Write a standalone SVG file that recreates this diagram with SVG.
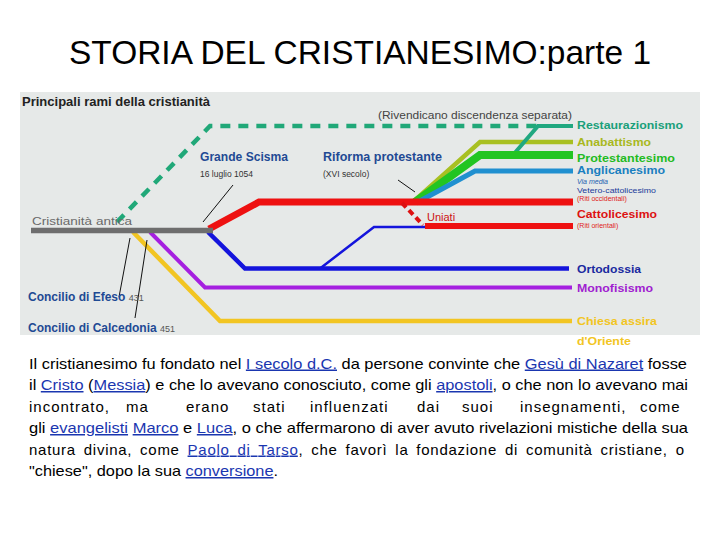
<svg xmlns="http://www.w3.org/2000/svg" width="720" height="540" viewBox="0 0 720 540">
<style>
  .t{font-family:"Liberation Sans",Arial,sans-serif}
  .b{font-weight:bold}
  .lab{font-family:"Liberation Sans",Arial,sans-serif;font-weight:bold;font-size:12px;fill:#1f4a94}
  .sm{font-family:"Liberation Sans",Arial,sans-serif;font-size:8.5px;fill:#333}
  .rl{font-family:"Liberation Sans",Arial,sans-serif;font-weight:bold;font-size:11.5px}
  .tiny{font-family:"Liberation Sans",Arial,sans-serif;font-size:7px}
  .ln{fill:none;stroke-linejoin:miter}
  .ptr{fill:none;stroke:#111;stroke-width:1}
  .p{font-family:"Liberation Sans",Arial,sans-serif;font-size:15px;fill:#000}
  .lk{fill:#1a36b0;text-decoration:underline}
</style>
<rect width="720" height="540" fill="#fff"/>
<text id="title" class="t" x="360" y="64" font-size="34" text-anchor="middle" textLength="582" lengthAdjust="spacingAndGlyphs" fill="#000">STORIA DEL CRISTIANESIMO:parte 1</text>

<rect x="20" y="92" width="680" height="243" fill="#e6e9e8"/>
<text class="t b" x="22" y="106" font-size="12" fill="#222" textLength="188" lengthAdjust="spacingAndGlyphs">Principali rami della cristianità</text>

<g id="connectors">
  <path class="ln" d="M117,222 L210,126 H538" stroke="#20a878" stroke-width="4.5" stroke-dasharray="10,8"/>
  <path class="ln" d="M133,232 L220,321 H572" stroke="#f2c522" stroke-width="4.5"/>
  <path class="ln" d="M150,232 L205,287.5 H572" stroke="#a51fe0" stroke-width="4"/>
  <path class="ln" d="M320,268.5 L374,227 H426" stroke="#1414dc" stroke-width="2.5"/>
  <path class="ln" d="M208,232 L245,268.5 H569" stroke="#1414dc" stroke-width="4.5"/>
  <path class="ln" d="M413,202 L480,142 H573" stroke="#a8c022" stroke-width="4.5"/>
  <path class="ln" d="M513,155 L538,126 H573" stroke="#20a880" stroke-width="4"/>
  <path class="ln" d="M415,202 L480,155 H573" stroke="#22c522" stroke-width="8"/>
  <path class="ln" d="M418,202 L475,171 H573" stroke="#2090d0" stroke-width="5"/>
  <path class="ln" d="M209,229 L259,202 H573" stroke="#ee1111" stroke-width="7"/>
  <path class="ln" d="M402,203 L423,225" stroke="#dd1111" stroke-width="4" stroke-dasharray="6,4"/>
  <path class="ln" d="M425,226 H573" stroke="#ee1111" stroke-width="6"/>
  <path class="ln" d="M31,230.5 H213" stroke="#6e6e6e" stroke-width="5.5"/>
  <path class="ptr" d="M233,185 L203,222"/>
  <path class="ptr" d="M398,180 L415,192"/>
  <path class="ptr" d="M130,238 L119,297"/>
  <path class="ptr" d="M147,240 L135,318"/>
</g>

<g id="antica"><text class="t" x="32" y="225" font-size="11" fill="#6a6a6a" textLength="100" lengthAdjust="spacingAndGlyphs">Cristianità antica</text></g>
<g id="scisma">
  <text class="lab" x="200" y="161" textLength="88" lengthAdjust="spacingAndGlyphs">Grande Scisma</text>
  <text class="sm" x="200" y="177">16 luglio 1054</text>
</g>
<g id="riforma">
  <text class="lab" x="323" y="161" textLength="119" lengthAdjust="spacingAndGlyphs">Riforma protestante</text>
  <text class="sm" x="323" y="177">(XVI secolo)</text>
</g>
<g id="rivendicano"><text class="t" x="378" y="119" font-size="11" fill="#444" textLength="194" lengthAdjust="spacingAndGlyphs">(Rivendicano discendenza separata)</text></g>
<g id="uniati"><text class="t" x="427" y="220.5" font-size="11" fill="#cc1111">Uniati</text></g>
<g id="efeso"><text class="lab" x="28" y="301">Concilio di Efeso <tspan font-weight="normal" font-size="9" fill="#555">431</tspan></text></g>
<g id="calcedonia"><text class="lab" x="28" y="332">Concilio di Calcedonia <tspan font-weight="normal" font-size="9" fill="#555">451</tspan></text></g>

<g id="restaurazionismo"><text class="rl" x="577" y="129" fill="#1aa07a" textLength="106" lengthAdjust="spacingAndGlyphs">Restaurazionismo</text></g>
<g id="anabattismo"><text class="rl" x="577" y="145.5" fill="#a8b820" textLength="74" lengthAdjust="spacingAndGlyphs">Anabattismo</text></g>
<g id="protestantesimo"><text class="rl" x="577" y="161.5" fill="#22bb22" textLength="98" lengthAdjust="spacingAndGlyphs">Protestantesimo</text></g>
<g id="anglicanesimo">
  <text class="rl" x="577" y="174" fill="#1a7fc0" textLength="88" lengthAdjust="spacingAndGlyphs">Anglicanesimo</text>
  <text class="tiny" x="577" y="183.5" fill="#2060b0" font-style="italic">Via media</text>
  <text class="tiny" x="577" y="192.5" fill="#1a3a9a" textLength="79" lengthAdjust="spacingAndGlyphs">Vetero-cattolicesimo</text>
</g>
<g id="cattolicesimo">
  <text class="tiny" x="577" y="201" fill="#e02020">(Riti occidentali)</text>
  <text class="rl" x="577" y="218" fill="#dd1111" textLength="80" lengthAdjust="spacingAndGlyphs">Cattolicesimo</text>
  <text class="tiny" x="577" y="227.5" fill="#e02020">(Riti orientali)</text>
</g>
<g id="ortodossia"><text class="rl" x="577" y="272.5" fill="#1a2aa0" textLength="64" lengthAdjust="spacingAndGlyphs">Ortodossia</text></g>
<g id="monofisismo"><text class="rl" x="577" y="292" fill="#a020d0" textLength="76" lengthAdjust="spacingAndGlyphs">Monofisismo</text></g>
<g id="assira">
  <text class="rl" x="577" y="324.5" fill="#f2c522" textLength="80" lengthAdjust="spacingAndGlyphs">Chiesa assira</text>
  <text class="rl" x="577" y="344.5" fill="#f2c522" textLength="54" lengthAdjust="spacingAndGlyphs">d'Oriente</text>
</g>

<g id="paragraph">
  <text class="p" x="29" y="368.5" textLength="658" lengthAdjust="spacingAndGlyphs">Il cristianesimo fu fondato nel <tspan class="lk">I secolo d.C.</tspan> da persone convinte che <tspan class="lk">Gesù di Nazaret</tspan> fosse</text>
  <text class="p" x="29" y="390" textLength="659" lengthAdjust="spacingAndGlyphs">il <tspan class="lk">Cristo</tspan> (<tspan class="lk">Messia</tspan>) e che lo avevano conosciuto, come gli <tspan class="lk">apostoli</tspan>, o che non lo avevano mai</text>
  <text class="p" y="411.5" letter-spacing="1"><tspan x="29">incontrato,</tspan><tspan x="126">ma</tspan><tspan x="186">erano</tspan><tspan x="253">stati</tspan><tspan x="310">influenzati</tspan><tspan x="417">dai</tspan><tspan x="462">suoi</tspan><tspan x="520">insegnamenti,</tspan><tspan x="640">come</tspan></text>
  <text class="p" x="29" y="433" textLength="659" lengthAdjust="spacingAndGlyphs">gli <tspan class="lk">evangelisti</tspan> <tspan class="lk">Marco</tspan> e <tspan class="lk">Luca</tspan>, o che affermarono di aver avuto rivelazioni mistiche della sua</text>
  <text class="p" x="29" y="454.5" textLength="655" lengthAdjust="spacing" word-spacing="3">natura divina, come <tspan class="lk">Paolo di Tarso</tspan>, che favorì la fondazione di comunità cristiane, o</text>
  <text class="p" x="29" y="476" textLength="249" lengthAdjust="spacingAndGlyphs">"chiese", dopo la sua <tspan class="lk">conversione</tspan>.</text>
</g>
</svg>
